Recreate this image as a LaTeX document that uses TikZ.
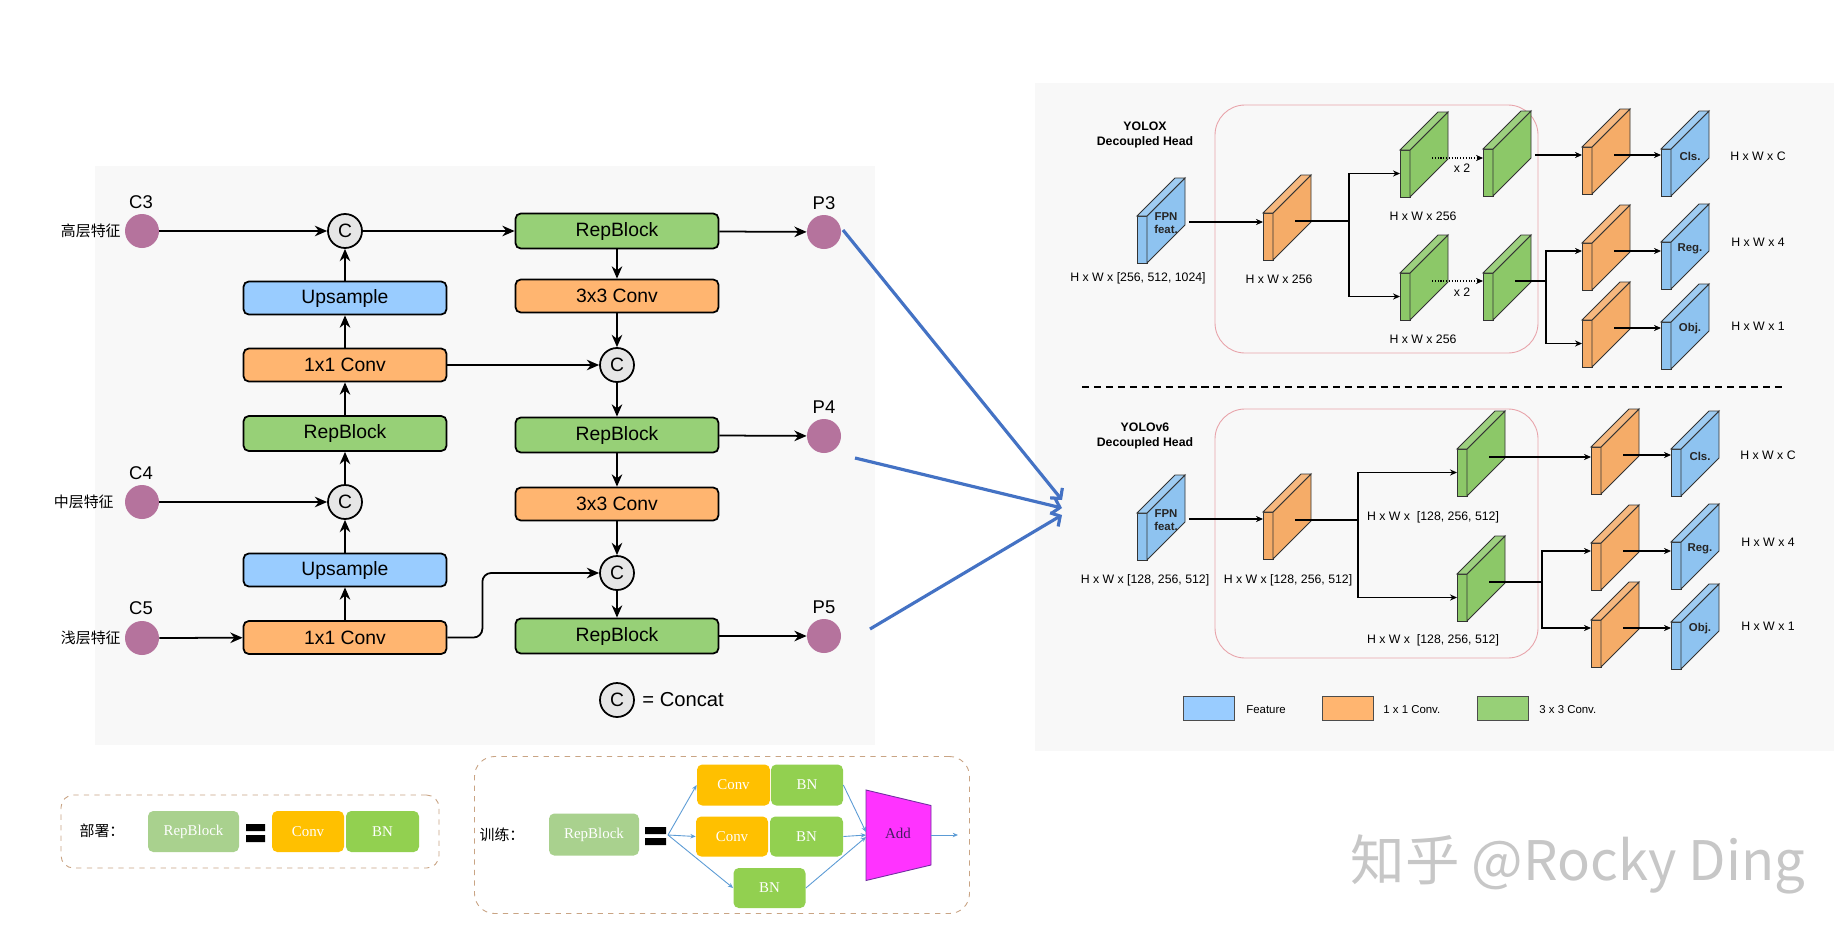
\documentclass[tikz,border=0pt]{standalone}
\usepackage{fontspec}
\setmainfont{Liberation Sans}
\newfontfamily\cjk{Noto Sans CJK SC}
\newfontfamily\boxserif{Liberation Serif}
\usetikzlibrary{arrows.meta}
\usetikzlibrary{positioning}

\definecolor{repgreen}{HTML}{97D077}
\definecolor{convorange}{HTML}{FFB570}
\definecolor{upblue}{HTML}{99CCFF}
\definecolor{catgray}{HTML}{E6E6E6}
\definecolor{featpink}{HTML}{B5739D}
\definecolor{linkblue}{HTML}{4472C4}
\definecolor{cubeblue}{HTML}{8EC3F0}
\definecolor{cubeorange}{HTML}{F5AC68}
\definecolor{cubegreen}{HTML}{8CC868}
\definecolor{headred}{HTML}{E8A3AA}
\definecolor{trainbrown}{HTML}{C9A484}
\definecolor{lightrep}{HTML}{A9D18E}
\definecolor{convyellow}{HTML}{FFC000}
\definecolor{bngreen}{HTML}{92D050}
\definecolor{addpink}{HTML}{FF33FF}
\definecolor{addpurple}{HTML}{7030A0}
\definecolor{thinblue}{HTML}{5B9BD5}
\definecolor{panelgray}{HTML}{F8F8F8}

\tikzset{
  block/.style={draw=black, line width=1pt, rounded corners=3pt, minimum width=203*0.02cm, minimum height=33*0.02cm, inner sep=0pt, font=\fontsize{11}{13}\selectfont},
  rep/.style={block, fill=repgreen, minimum height=35*0.02cm},
  conv/.style={block, fill=convorange},
  upsm/.style={block, fill=upblue},
  concat/.style={circle, draw=black, line width=1pt, fill=catgray, minimum size=34*0.02cm, inner sep=0pt, font=\fontsize{11}{13}\selectfont},
  feat/.style={circle, fill=featpink, minimum size=34*0.02cm, inner sep=0pt},
  featname/.style={font=\fontsize{10.5}{12}\selectfont, inner sep=0pt},
  cnlabel/.style={font=\cjk\fontsize{8.5}{10}\selectfont, anchor=east, inner sep=0pt},
  flow/.style={line width=1pt, -{Stealth[length=7pt,width=6pt]}},
  bigflow/.style={linkblue, line width=1.8pt, -{Straight Barb[length=4pt,width=9pt]}},
  cubeface/.style={draw=black!80, line width=0.5pt},
  cubelabel/.style={font=\bfseries\fontsize{6.5}{7}\selectfont, align=center, text=black!85, inner sep=0pt},
  dims/.style={font=\fontsize{7}{8}\selectfont, inner sep=0pt},
  headtitle/.style={font=\bfseries\fontsize{7}{9}\selectfont, align=center, inner sep=0pt},
  thinflow/.style={line width=0.6pt, -{Stealth[length=4pt,width=3.5pt]}},
  dotflow/.style={thinflow, densely dotted},
  branch/.style={line width=0.6pt},
  headbox/.style={draw=headred, line width=0.5pt, rounded corners=0.6cm},
  legendkey/.style={draw=black!70, line width=0.5pt, minimum width=51*0.02cm, minimum height=24*0.02cm, inner sep=0pt},
  legendtext/.style={font=\fontsize{6.5}{8}\selectfont, anchor=west, inner sep=0pt},
  dashbox/.style={draw=trainbrown, dashed, line width=0.5pt, rounded corners=0.25cm, inner sep=0pt},
  serifblock/.style={rounded corners=3pt, minimum height=41*0.02cm, inner sep=0pt, text=white, font=\boxserif\fontsize{8.5}{10}\selectfont},
  minilink/.style={thinblue, line width=0.5pt, -{Stealth[length=3pt,width=2.5pt]}},
}

% cuboid: name, x, y (front top-left), colour, text
\newcommand{\featcube}[5]{%
  \filldraw[cubeface,fill=#4] (#2,#3) rectangle ++(10,47);
  \filldraw[cubeface,fill=#4] (#2+10,#3) -- ++(38,-38) -- ++(0,47) -- ++(-38,38) -- cycle;
  \filldraw[cubeface,fill=#4!85!white] (#2,#3) -- ++(38,-38) -- ++(10,0) -- ++(-38,38) -- cycle;
  \coordinate (#1) at (#2,#3);
  \coordinate (#1-in) at (#2,#3+8);
  \coordinate (#1-mid) at (#2,#3+23.5);
  \coordinate (#1-out) at (#2+32,#3+8);
  \coordinate (#1-back) at (#2+52,#3+6);
  \node[cubelabel] (#1-txt) at (#2+29,#3+7) {#5};
}

\begin{document}
\begin{tikzpicture}[x=0.02cm, y=-0.02cm]
\useasboundingbox (0,0) rectangle (1846,940);
\fill[white] (0,0) rectangle (1846,940);
\fill[panelgray] (95,166) rectangle (875,745);
\fill[panelgray] (1035,83) rectangle (1834,751);

% neck inputs
\node[feat] (c3) at (142,231) {};
\node[feat] (c4) at (142,502) {};
\node[feat] (c5) at (142,638) {};
\node[featname] (c3name) at (141,202) {C3};
\node[featname] (c4name) at (141,473) {C4};
\node[featname] (c5name) at (141,608) {C5};
\node[cnlabel] (c3cn) at (121,231) {高层特征};
\node[cnlabel] (c4cn) at (114,502) {中层特征};
\node[cnlabel] (c5cn) at (121,638) {浅层特征};

% top-down column
\node[concat] (cat1) at (345,231) {C};
\node[upsm] (up1) at (345,298) {Upsample};
\node[conv] (conv1) at (345,365) {1x1 Conv};
\node[rep] (rep1) at (345,433.5) {RepBlock};
\node[concat] (cat2) at (345,502) {C};
\node[upsm] (up2) at (345,570) {Upsample};
\node[conv] (conv2) at (345,637.5) {1x1 Conv};

% bottom-up column
\node[rep] (repA) at (617,231) {RepBlock};
\node[conv] (conv3a) at (617,296) {3x3 Conv};
\node[concat] (cat3) at (617,365) {C};
\node[rep] (repB) at (617,435) {RepBlock};
\node[conv] (conv3b) at (617,504) {3x3 Conv};
\node[concat] (cat4) at (617,573) {C};
\node[rep] (repC) at (617,636) {RepBlock};

% outputs
\node[feat] (p3) at (824,232) {};
\node[feat] (p4) at (824,436) {};
\node[feat] (p5) at (824,636) {};
\node[featname] (p3name) at (824,203) {P3};
\node[featname] (p4name) at (824,407) {P4};
\node[featname] (p5name) at (824,607) {P5};

\node[concat] (catkey) at (617,700) {C};
\node[font=\fontsize{11.5}{13}\selectfont, anchor=west, inner sep=0pt] (catkeytext) at (642,700) {= Concat};

\draw[flow] (c3) -- (cat1);
\draw[flow] (cat1) -- (repA);
\draw[flow] (up1) -- (cat1);
\draw[flow] (conv1) -- (up1);
\draw[flow] (rep1) -- (conv1);
\draw[flow] (cat2) -- (rep1);
\draw[flow] (up2) -- (cat2);
\draw[flow] (conv2) -- (up2);
\draw[flow] (c4) -- (cat2);
\draw[flow] (c5) -- (conv2);
\draw[flow] (conv1) -- (cat3);
\draw[flow] (repA) -- (conv3a);
\draw[flow] (conv3a) -- (cat3);
\draw[flow] (cat3) -- (repB);
\draw[flow] (repB) -- (conv3b);
\draw[flow] (conv3b) -- (cat4);
\draw[flow] (cat4) -- (repC);
\draw[flow, rounded corners=5pt] (conv2.east) -- ++(35,0) |- (cat4);
\draw[flow] (repA) -- (p3);
\draw[flow] (repB) -- (p4);
\draw[flow] (repC) -- (p5);

% links to the heads
\coordinate (p3out) at (843,230);
\coordinate (p4out) at (855,458);
\coordinate (p5out) at (870,629);
\coordinate (hd3) at (1062,500);
\coordinate (hd4) at (1062,508);
\coordinate (hd5) at (1062,515);
\draw[bigflow] (p3out) -- (hd3);
\draw[bigflow] (p4out) -- (hd4);
\draw[bigflow] (p5out) -- (hd5);

% YOLOX head
\draw[headbox] (1215,105) rectangle (1538,353);
\node[headtitle] (xtitle) at (1145,135) {YOLOX\\Decoupled Head};
\featcube{xfpn}{1137}{216}{cubeblue}{FPN\\feat.}
\featcube{xo1}{1263}{213}{cubeorange}{}
\featcube{xg1}{1400}{150}{cubegreen}{}
\featcube{xg3}{1400}{273}{cubegreen}{}
\featcube{xg2}{1483}{149}{cubegreen}{}
\featcube{xg4}{1483}{273}{cubegreen}{}
\featcube{xo2}{1582}{147}{cubeorange}{}
\featcube{xo3}{1582}{243}{cubeorange}{}
\featcube{xo4}{1582}{320}{cubeorange}{}
\featcube{xb1}{1661}{149}{cubeblue}{Cls.}
\featcube{xb2}{1661}{242}{cubeblue}{Reg.}
\featcube{xb3}{1661}{322}{cubeblue}{Obj.}
\coordinate (xsplit) at (1349,221);
\coordinate (xsplit2) at (1546,281);
\draw[thinflow] (xfpn-back) -- (xfpn-back -| xo1);
\draw[branch] (xo1-out) -- (xsplit);
\draw[thinflow] (xsplit) |- (xg1-mid);
\draw[thinflow] (xsplit) |- (xg3-mid);
\draw[dotflow] (xg1-out) -- (xg1-out -| xg2);
\draw[dotflow] (xg3-out) -- (xg3-out -| xg4);
\draw[thinflow] (xg2-back) -- (xg2-back -| xo2);
\draw[branch] (xg4-out) -- (xsplit2);
\draw[thinflow] (xsplit2) |- (xo3-in);
\draw[thinflow] (xsplit2) |- (xo4-mid);
\draw[thinflow] (xo2-out) -- (xo2-out -| xb1);
\draw[thinflow] (xo3-out) -- (xo3-out -| xb2);
\draw[thinflow] (xo4-out) -- (xo4-out -| xb3);
\node[dims] (xd1) at (1138,278) {H x W x [256, 512, 1024]};
\node[dims] (xd2) at (1279,279) {H x W x 256};
\node[dims] (xd3) at (1423,216) {H x W x 256};
\node[dims] (xd4) at (1423,339) {H x W x 256};
\node[dims] (xrep1) at (1462,168) {x 2};
\node[dims] (xrep2) at (1462,292) {x 2};
\node[dims] (xcls) at (1758,156) {H x W x C};
\node[dims] (xreg) at (1758,242) {H x W x 4};
\node[dims] (xobj) at (1758,326) {H x W x 1};

\draw[line width=1.1pt, dash pattern=on 4pt off 2.8pt] (1082,387) -- (1785,387);

% YOLOv6 head
\draw[headbox] (1215,409) rectangle (1538,658);
\node[headtitle] (vtitle) at (1145,436) {YOLOv6\\Decoupled Head};
\featcube{vfpn}{1137}{513}{cubeblue}{FPN\\feat.}
\featcube{vo1}{1263}{512}{cubeorange}{}
\featcube{vg1}{1457}{449}{cubegreen}{}
\featcube{vg2}{1457}{574}{cubegreen}{}
\featcube{vo2}{1591}{447}{cubeorange}{}
\featcube{vo3}{1591}{543}{cubeorange}{}
\featcube{vo4}{1591}{620}{cubeorange}{}
\featcube{vb1}{1671}{449}{cubeblue}{Cls.}
\featcube{vb2}{1671}{542}{cubeblue}{Reg.}
\featcube{vb3}{1671}{622}{cubeblue}{Obj.}
\coordinate (vsplit) at (1358,520);
\coordinate (vsplit2) at (1542,582);
\draw[thinflow] (vfpn-back) -- (vfpn-back -| vo1);
\draw[branch] (vo1-out) -- (vsplit);
\draw[thinflow] (vsplit) |- (vg1-mid);
\draw[thinflow] (vsplit) |- (vg2-mid);
\draw[thinflow] (vg1-out) -- (vg1-out -| vo2);
\draw[branch] (vg2-out) -- (vsplit2);
\draw[thinflow] (vsplit2) |- (vo3-in);
\draw[thinflow] (vsplit2) |- (vo4-in);
\draw[thinflow] (vo2-out) -- (vo2-out -| vb1);
\draw[thinflow] (vo3-out) -- (vo3-out -| vb2);
\draw[thinflow] (vo4-out) -- (vo4-out -| vb3);
\node[dims] (vd1) at (1145,580) {H x W x [128, 256, 512]};
\node[dims] (vd2) at (1288,580) {H x W x [128, 256, 512]};
\node[dims] (vd3) at (1433,517) {H x W x \ [128, 256, 512]};
\node[dims] (vd4) at (1433,640) {H x W x \ [128, 256, 512]};
\node[dims] (vcls) at (1768,455) {H x W x C};
\node[dims] (vreg) at (1768,542) {H x W x 4};
\node[dims] (vobj) at (1768,626) {H x W x 1};

% legend
\node[legendkey, fill=upblue] (keyfeat) at (1208.5,708) {};
\node[legendtext] (keyfeattxt) at (1246,710) {Feature};
\node[legendkey, fill=convorange] (keyone) at (1347.5,708) {};
\node[legendtext] (keyonetxt) at (1383,710) {1 x 1 Conv.};
\node[legendkey, fill=repgreen] (keythree) at (1502.5,708) {};
\node[legendtext] (keythreetxt) at (1539,710) {3 x 3 Conv.};

% RepBlock at deploy time
\node[dashbox, minimum width=378*0.02cm, minimum height=73*0.02cm] (deploy) at (250,831.5) {};
\node[font=\cjk\fontsize{8.5}{10}\selectfont, inner sep=0pt] (deploytxt) at (102,831) {部署：};
\node[serifblock, fill=lightrep, minimum width=91*0.02cm] (drep) at (193.5,831.5) {RepBlock};
\fill[black] (246,824) rectangle (265,831) (246,835) rectangle (265,842);
\node[serifblock, fill=convyellow, minimum width=72*0.02cm] (dconv) at (308,831.5) {Conv};
\node[serifblock, fill=bngreen, minimum width=73*0.02cm] (dbn) at (382.5,831.5) {BN};

% RepBlock at training time
\node[dashbox, rounded corners=0.4cm, minimum width=495*0.02cm, minimum height=157*0.02cm] (train) at (722,835) {};
\node[font=\cjk\fontsize{8.5}{10}\selectfont, inner sep=0pt] (traintxt) at (502,835) {训练：};
\node[serifblock, fill=lightrep, minimum width=90*0.02cm, minimum height=42*0.02cm] (trep) at (594,834.5) {RepBlock};
\fill[black] (645,827) rectangle (666,834) (645,838) rectangle (666,845);
\node[serifblock, fill=convyellow, minimum width=73*0.02cm, minimum height=41*0.02cm] (tconv1) at (733.5,785) {Conv};
\node[serifblock, fill=bngreen, minimum width=72*0.02cm, minimum height=41*0.02cm] (tbn1) at (807,785) {BN};
\node[serifblock, fill=convyellow, minimum width=72*0.02cm, minimum height=40*0.02cm] (tconv2) at (732,836.5) {Conv};
\node[serifblock, fill=bngreen, minimum width=73*0.02cm, minimum height=40*0.02cm] (tbn2) at (806.5,836.5) {BN};
\node[serifblock, fill=bngreen, minimum width=72*0.02cm, minimum height=40*0.02cm] (tbn3) at (769.5,888) {BN};
\filldraw[fill=addpink, draw=addpurple, line width=0.5pt] (866,790) -- (931,805.5) -- (931,865) -- (866,880.5) -- cycle;
\node[font=\boxserif\fontsize{8.5}{10}\selectfont, text=addpurple!60!black, inner sep=0pt] (addtxt) at (898,833) {Add};
\coordinate (teq) at (668,835);
\coordinate (addin1) at (866,832);
\coordinate (addin2) at (866,835);
\coordinate (addin3) at (866,837);
\coordinate (addout) at (931,835);
\coordinate (trainout) at (958,835);
\draw[minilink] (teq) -- (tconv1.west);
\draw[minilink] (teq) -- (tconv2.west);
\draw[minilink] (teq) -- (tbn3.west);
\draw[minilink] (tbn1.east) -- (addin1);
\draw[minilink] (tbn2.east) -- (addin2);
\draw[minilink] (tbn3.east) -- (addin3);
\draw[minilink] (addout) -- (trainout);

\node[font=\cjk\fontsize{31}{33}\selectfont, text=black!22, inner sep=0pt] (mark) at (1578,864) {知乎 @Rocky Ding};
\end{tikzpicture}
\end{document}
